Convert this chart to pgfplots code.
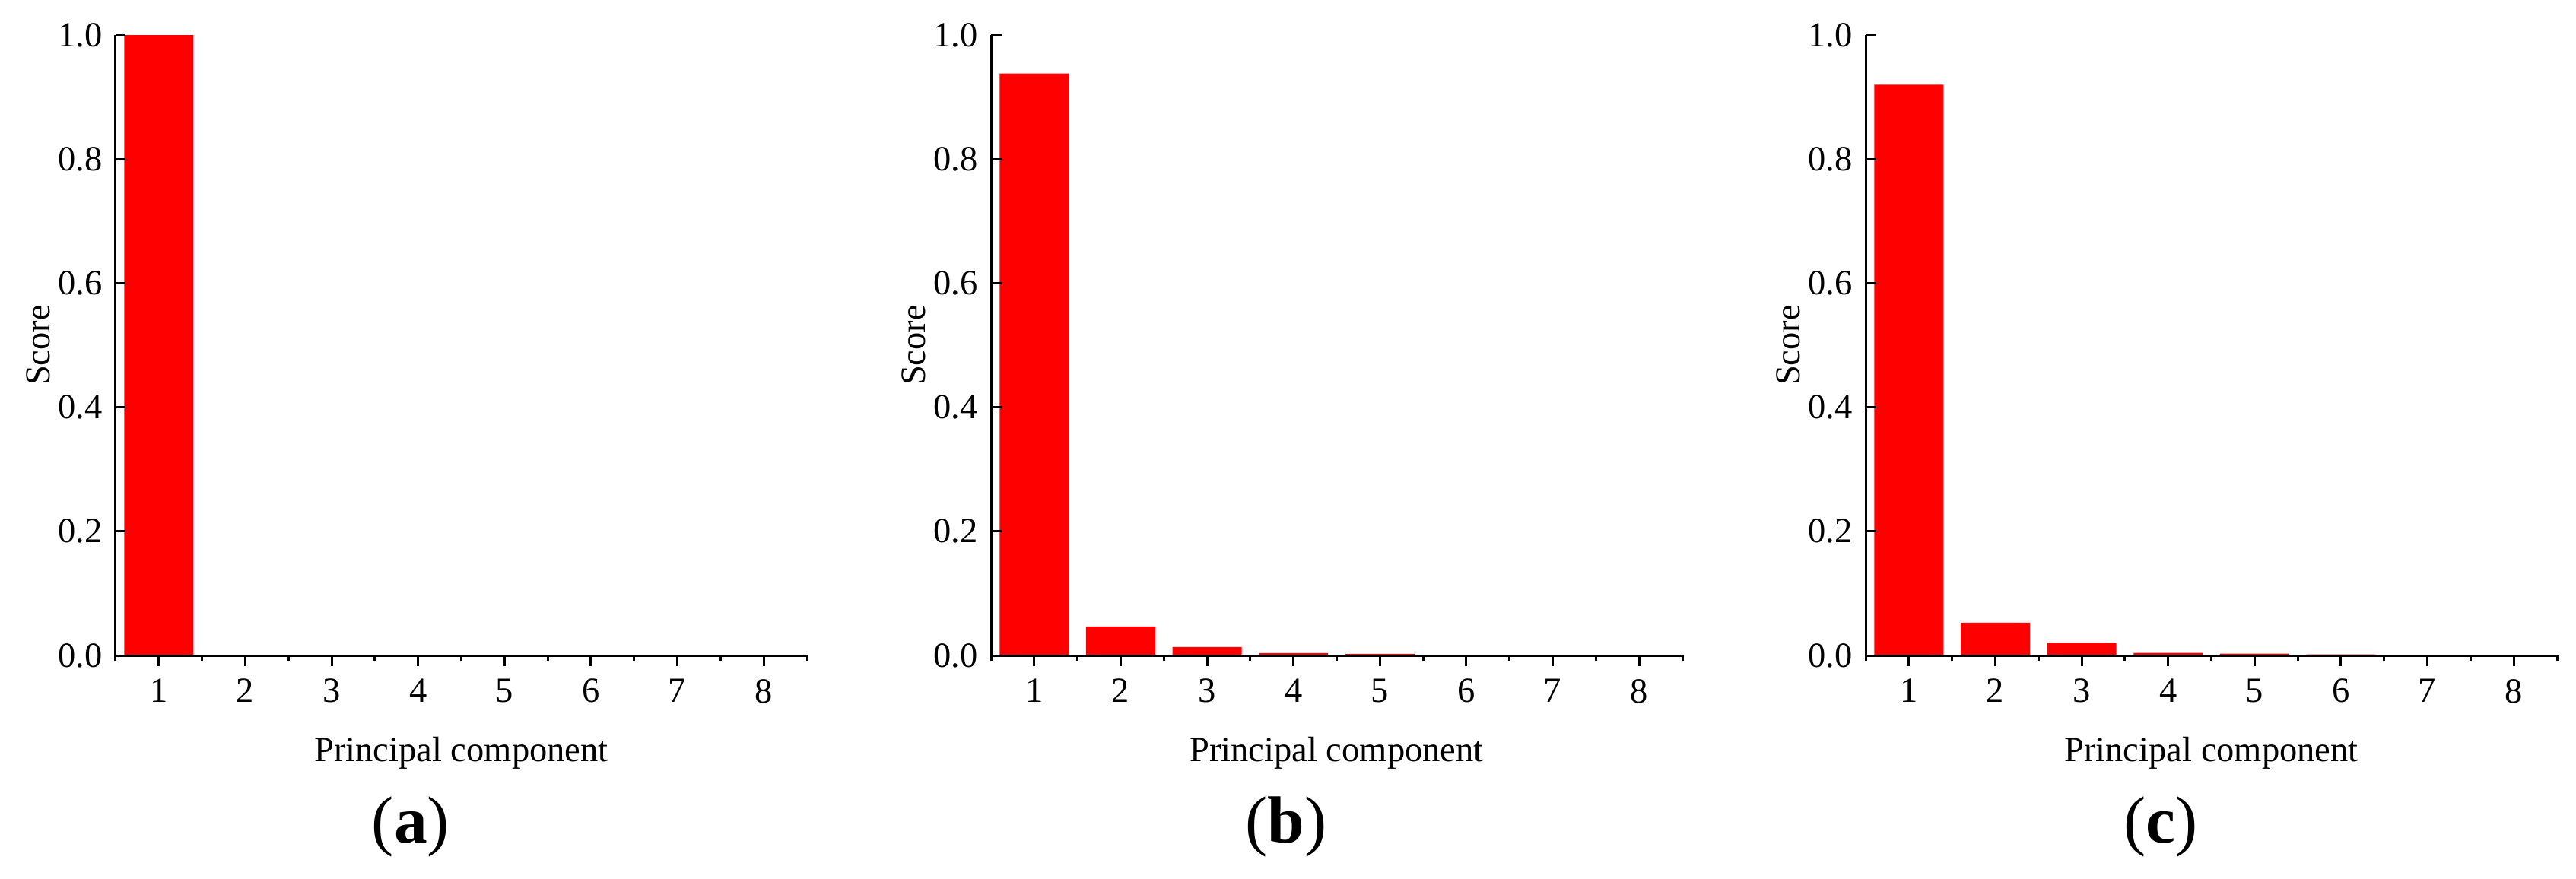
\documentclass[border=0pt]{standalone}
\usepackage{fontspec}
\setmainfont{Liberation Serif}
\usepackage{pgfplots}
\usepackage{pgfplotstable}
\pgfplotsset{compat=1.18}

\pgfplotstableread{
pc a b c
1 1.000 0.938 0.920
2 0.000 0.0466 0.053
3 0.000 0.0135 0.0204
4 0.000 0.0037 0.0042
5 0.000 0.0025 0.0030
6 0.000 0.0008 0.0016
7 0.000 0.0004 0.0005
8 0.000 0.0002 0.0003
}\scores

\pgfplotsset{pcastyle/.style={
  width=181.8pt, height=163.2pt, scale only axis,
  anchor=south west,
  axis lines=left, axis line style={-, black, line width=0.6pt},
  axis on top,
  xmin=0.5, xmax=8.5, ymin=0, ymax=1,
  xtick={1,2,3,4,5,6,7,8},
  minor xtick={0.5,1.5,2.5,3.5,4.5,5.5,6.5,7.5,8.5},
  ytick={0,0.2,0.4,0.6,0.8,1.0},
  yticklabel style={/pgf/number format/.cd, fixed, fixed zerofill, precision=1},
  xtick align=outside, ytick align=inside,
  major tick length=2.7pt, minor tick length=1.4pt,
  tick style={black, line width=0.6pt},
  /pgf/number format/assume math mode=true,
  tick label style={font=\fontsize{9.3}{11}\selectfont},
  label style={font=\fontsize{9.3}{11}\selectfont},
  xlabel={Principal component},
  ylabel={Score},
  xlabel style={at={(axis description cs:0.5,0)}, anchor=center, yshift=-25.6pt},
  ylabel style={at={(axis description cs:-0.112,0.5)}, anchor=center},
}}

\begin{document}
\begin{tikzpicture}
\path[use as bounding box] (0,0) rectangle (677.4pt,231pt);

\begin{axis}[pcastyle, at={(30.4pt,58.6pt)}]
\addplot[ybar, bar width=0.8, fill=red, draw=none] table[x=pc, y=a] {\scores};
\end{axis}

\begin{axis}[pcastyle, at={(260.6pt,58.6pt)}]
\addplot[ybar, bar width=0.8, fill=red, draw=none] table[x=pc, y=b] {\scores};
\end{axis}

\begin{axis}[pcastyle, at={(490.6pt,58.6pt)}]
\addplot[ybar, bar width=0.8, fill=red, draw=none] table[x=pc, y=c] {\scores};
\end{axis}

\node[font=\fontsize{17.5}{20}\selectfont] at (108pt,13.6pt) {(\textbf{a})};
\node[font=\fontsize{17.5}{20}\selectfont] at (338.2pt,13.6pt) {(\textbf{b})};
\node[font=\fontsize{17.5}{20}\selectfont] at (568.2pt,13.6pt) {(\textbf{c})};
\end{tikzpicture}
\end{document}
